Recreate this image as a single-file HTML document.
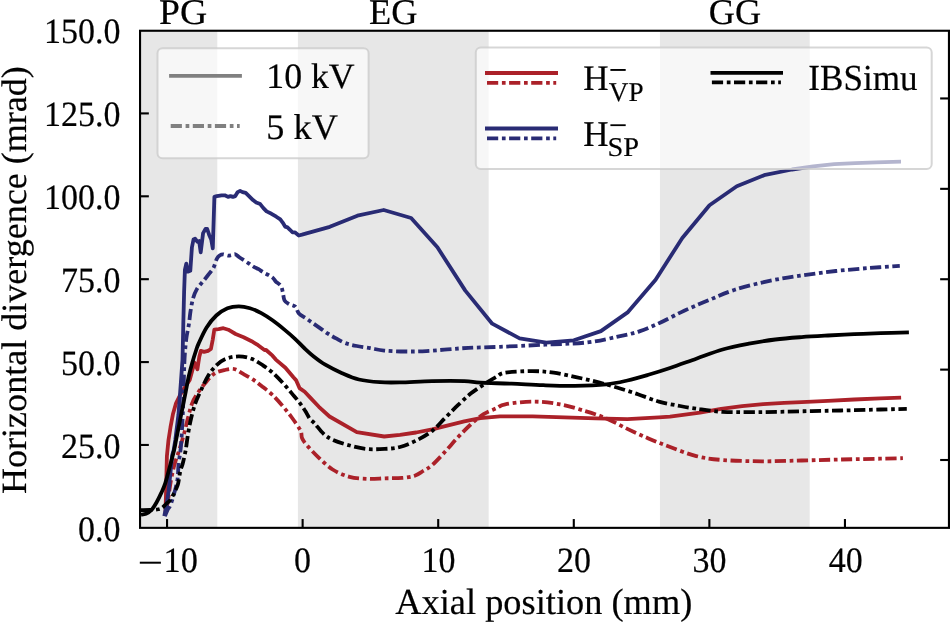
<!DOCTYPE html><html><head><meta charset="utf-8"><style>html,body{margin:0;padding:0;background:#fff;overflow:hidden}svg{display:block}text{font-family:"Liberation Serif",serif;text-rendering:geometricPrecision}</style></head><body>
<svg width="950" height="622" viewBox="0 0 950 622">
<rect width="950" height="622" fill="#fff"/>
<rect x="140.05" y="30.75" width="77.25" height="497.1" fill="#e7e7e7"/>
<rect x="297.9" y="30.75" width="190.75" height="497.1" fill="#e7e7e7"/>
<rect x="659.95" y="30.75" width="149.75" height="497.1" fill="#e7e7e7"/>
<g fill="none" stroke-width="3.8" stroke-linejoin="round" stroke-linecap="butt">
<path d="M165.5,512 L166.1,490 L166.5,472.2 L166.9,456.1 L168.5,440 L170.5,427.2 L172.9,414.3 L176.1,403.1 L180.1,395 L184.1,388.6 L189.7,380 L194.5,362.5 L197.4,369.2 L199.3,356.7 L200.8,350.9 L204.1,351.9 L208,350.9 L210.9,349 L212.8,339.3 L214.3,329.7 L218.6,329.2 L223.4,328.2 L228.3,329.7 L235.6,334 L243.6,337.2 L251.6,341.2 L258.1,345.2 L264.5,350 L266.1,350 L272.5,355.7 L275.8,359.6 L285.4,367.7 L293.4,377.3 L296,380.1 L299.5,388.1 L304.7,391.8 L310,397.4 L318.9,406.8 L329.5,416.5 L356.8,432.1 L384.2,436.5 L400,434.9 L416.1,432.5 L432.2,429.3 L448.2,425.3 L464.3,421.3 L480.4,418.1 L500,416.4 L532.6,416.3 L564.2,417.4 L595.8,418.4 L627.4,419.1 L658.9,417.4 L670,416.6 L700,412.6 L721.1,408.9 L742.1,406.1 L763.2,404.2 L784.2,402.9 L801.6,402.2 L827.9,400.8 L854.2,399.5 L880,398.4 L901.1,397.6" stroke="#ab2129"/>
<path d="M166,513 C166.33,510.83 167.17,505.5 168,500 C168.83,494.5 169.9,485.98 171,480 C172.1,474.02 173.22,469.1 174.6,464.1 C175.98,459.1 177.72,455.08 179.3,450 C180.88,444.92 182.63,439.02 184.1,433.6 C185.57,428.18 186.75,422.58 188.1,417.5 C189.45,412.42 190.45,407.38 192.2,403.1 C193.95,398.82 196.2,395.42 198.6,391.8 C201,388.18 203.92,384.48 206.6,381.4 C209.28,378.32 211.75,375.18 214.7,373.3 C217.65,371.42 221.08,370.82 224.3,370.1 C227.52,369.38 230.78,368.33 234,369 C237.22,369.67 240.4,372.32 243.6,374.1 C246.8,375.88 249.98,377.55 253.2,379.7 C256.42,381.85 259.68,384.45 262.9,387 C266.12,389.55 269.28,391.92 272.5,395 C275.72,398.08 278.98,401.75 282.2,405.5 C285.42,409.25 288.75,413.32 291.8,417.5 C294.85,421.68 298.8,427.18 300.5,430.6 C302.2,434.02 301.03,435.68 302,438 C302.97,440.32 303.65,441.37 306.3,444.5 C308.95,447.63 313.52,452.63 317.9,456.8 C322.28,460.97 327.33,466.17 332.6,469.5 C337.87,472.83 343.53,475.23 349.5,476.8 C355.47,478.37 362.43,478.65 368.4,478.9 C374.37,479.15 379.68,478.47 385.3,478.3 C390.92,478.13 397.2,478.32 402.1,477.9 C407,477.48 411.22,476.95 414.7,475.8 C418.18,474.65 420.08,472.8 423,471 C425.92,469.2 428.53,468.2 432.2,465 C435.87,461.8 440.72,456.42 445,451.8 C449.28,447.18 453.62,441.85 457.9,437.3 C462.18,432.75 466.42,428.35 470.7,424.5 C474.98,420.65 479.3,416.92 483.6,414.2 C487.9,411.48 492.88,409.85 496.5,408.2 C500.12,406.55 499.28,405.4 505.3,404.3 C511.32,403.2 523.48,401.6 532.6,401.6 C541.72,401.6 551.22,402.72 560,404.3 C568.78,405.88 577.58,408.75 585.3,411.1 C593.02,413.45 599.28,415.43 606.3,418.4 C613.32,421.37 620.38,425.57 627.4,428.9 C634.42,432.23 641.38,435.42 648.4,438.4 C655.42,441.38 661.52,443.85 669.5,446.8 C677.48,449.75 687.45,453.9 696.3,456.1 C705.15,458.3 711.63,459.13 722.6,460 C733.57,460.87 748.93,461.22 762.1,461.3 C775.27,461.38 788.43,460.8 801.6,460.5 C814.77,460.2 827.95,459.8 841.1,459.5 C854.25,459.2 870.2,458.92 880.5,458.7 C890.8,458.48 899.17,458.28 902.9,458.2" stroke="#ab2129" stroke-dasharray="11.2 3.7 3.7 3.5"/>
<path d="M164.3,516.2 L166.5,505 L168.5,492 L169.7,480 L171.2,465 L172.2,455 L173.7,450 L175.3,440 L178.5,414.3 L180.9,382.2 L182.5,360 L183.3,324.3 L184.1,292.2 L184.9,270 L186.3,263.6 L187.9,271.6 L190.3,270.8 L191.9,247.5 L193.5,239.5 L195.1,238.7 L197.5,241.9 L199.1,241.1 L200.7,252.3 L203.1,233.1 L205.5,229 L207.2,229 L209.1,234.7 L211.2,239.5 L212.8,248.3 L214.4,196.9 L216.8,196.1 L221.6,195.3 L224.8,195.3 L228,196.9 L230.5,196.1 L232.9,196.9 L235.3,196.1 L237.7,192.1 L240.1,190.9 L242.5,192.1 L245.7,192.9 L249,196.1 L253,200.1 L256.2,202.5 L260.2,204.1 L263.4,208.1 L266.6,211.4 L271.5,213.8 L276.3,216.7 L280.3,219.4 L282.7,222.6 L285.1,226.6 L287.5,227.4 L290,229.8 L292.4,232.3 L294.8,232.3 L298.8,235.5 L302,234.7 L329.8,226.8 L357.4,215.7 L383.7,210 L411.1,218 L437.4,247.3 L465.3,290.6 L492.2,323.7 L519.6,338.4 L546.3,342.6 L573.8,340.3 L600.9,331.1 L628,312.1 L655.6,279.7 L682.3,238 L709.5,205.2 L736.8,186.2 L765.3,174.8 L792.1,169.5 L813.2,166.3 L834.2,164.2 L855.3,163.2 L876.3,162.3 L901,161.7" stroke="#292b74"/>
<path d="M165,516 C165.5,514.83 167.13,510.72 168,509 C168.87,507.28 169.3,507.85 170.2,505.7 C171.1,503.55 172.2,500.38 173.4,496.1 C174.6,491.82 176.53,485.35 177.4,480 C178.27,474.65 178.02,469.58 178.6,464 C179.18,458.42 180.25,453.83 180.9,446.5 C181.55,439.17 182.08,428.08 182.5,420 C182.92,411.92 183.13,406.33 183.4,398 C183.67,389.67 183.85,377.47 184.1,370 C184.35,362.53 184.5,358.67 184.9,353.2 C185.3,347.73 185.83,342.02 186.5,337.2 C187.17,332.38 188.23,328.6 188.9,324.3 C189.57,320 189.82,315.68 190.5,311.4 C191.18,307.12 191.92,302.35 193,298.6 C194.08,294.85 195.27,291.85 197,288.9 C198.73,285.95 201.3,283.52 203.4,280.9 C205.5,278.28 207.9,275.42 209.6,273.2 C211.3,270.98 212.4,270 213.6,267.6 C214.8,265.2 215.73,260.87 216.8,258.8 C217.87,256.73 218.93,255.95 220,255.2 C221.07,254.45 221.85,254.23 223.2,254.3 C224.55,254.37 226.75,255.45 228.1,255.6 C229.45,255.75 230.1,255.42 231.3,255.2 C232.5,254.98 233.97,253.97 235.3,254.3 C236.63,254.63 237.83,256.18 239.3,257.2 C240.77,258.22 242.48,259.33 244.1,260.4 C245.72,261.47 247.38,262.53 249,263.6 C250.62,264.67 252.2,265.87 253.8,266.8 C255.4,267.73 257,268.27 258.6,269.2 C260.2,270.13 261.8,271.45 263.4,272.4 C265,273.35 266.58,273.95 268.2,274.9 C269.82,275.85 271.83,276.98 273.1,278.1 C274.37,279.22 274.5,280.3 275.8,281.6 C277.1,282.9 279.7,283.97 280.9,285.9 C282.1,287.83 282.4,290.78 283,293.2 C283.6,295.62 283.53,298.6 284.5,300.4 C285.47,302.2 287.38,303.15 288.8,304 C290.22,304.85 291.83,305 293,305.5 C294.17,306 294.82,305.68 295.8,307 C296.78,308.32 297.17,311.48 298.9,313.4 C300.63,315.32 303.78,316.82 306.2,318.5 C308.62,320.18 310.98,321.82 313.4,323.5 C315.82,325.18 318.28,326.9 320.7,328.6 C323.12,330.3 325.25,332.02 327.9,333.7 C330.55,335.38 333.7,337.13 336.6,338.7 C339.5,340.27 341.93,341.88 345.3,343.1 C348.67,344.32 352.68,345.17 356.8,346 C360.92,346.83 365.43,347.33 370,348.1 C374.57,348.87 378.32,350.03 384.2,350.6 C390.08,351.17 398.28,351.42 405.3,351.5 C412.32,351.58 419.28,351.45 426.3,351.1 C433.32,350.75 440.38,349.93 447.4,349.4 C454.42,348.87 459.63,348.33 468.4,347.9 C477.17,347.47 487.18,347.33 500,346.8 C512.82,346.27 530.73,345.43 545.3,344.7 C559.87,343.97 575.12,343.78 587.4,342.4 C599.68,341.02 610.23,338.28 619,336.4 C627.77,334.52 633.07,333.42 640,331.1 C646.93,328.78 653.23,325.9 660.6,322.5 C667.97,319.1 676.33,314.35 684.2,310.7 C692.07,307.05 699.38,304.08 707.8,300.6 C716.22,297.12 724.6,293.05 734.7,289.8 C744.8,286.55 757.17,283.5 768.4,281.1 C779.63,278.7 790.87,277.08 802.1,275.4 C813.33,273.72 824.58,272.23 835.8,271 C847.02,269.77 858.73,268.85 869.4,268 C880.07,267.15 894.73,266.25 899.8,265.9" stroke="#292b74" stroke-dasharray="11.2 3.7 3.7 3.5"/>
<path d="M141,514.6 C141.83,514.47 144.22,514.62 146,513.8 C147.78,512.98 149.95,511.58 151.7,509.7 C153.45,507.82 154.9,505.3 156.5,502.5 C158.1,499.7 159.83,496.12 161.3,492.9 C162.77,489.68 163.85,487.68 165.3,483.2 C166.75,478.72 168.53,471.53 170,466 C171.47,460.47 173.08,454.33 174.1,450 C175.12,445.67 175.23,444.33 176.1,440 C176.97,435.67 178.23,429.35 179.3,424 C180.37,418.65 181.43,413.27 182.5,407.9 C183.57,402.53 184.63,397.17 185.7,391.8 C186.77,386.43 187.82,380.52 188.9,375.7 C189.98,370.88 190.98,367.18 192.2,362.9 C193.42,358.62 195.13,353.22 196.2,350 C197.27,346.78 196.87,347.35 198.6,343.6 C200.33,339.85 203.65,332.18 206.6,327.5 C209.55,322.82 212.82,318.72 216.3,315.5 C219.78,312.28 223.75,309.73 227.5,308.2 C231.25,306.67 235.05,306.3 238.8,306.3 C242.55,306.3 246.25,307.07 250,308.2 C253.75,309.33 257.55,311.08 261.3,313.1 C265.05,315.12 268.75,317.63 272.5,320.3 C276.25,322.97 280.05,326.02 283.8,329.1 C287.55,332.18 291.52,335.57 295,338.8 C298.48,342.03 301.63,345.6 304.7,348.5 C307.77,351.4 309.97,353.5 313.4,356.2 C316.83,358.9 320.52,361.87 325.3,364.7 C330.08,367.53 336.5,370.73 342.1,373.2 C347.7,375.67 352.58,378 358.9,379.5 C365.22,381 373.15,381.72 380,382.2 C386.85,382.68 391.3,382.58 400,382.4 C408.7,382.22 421.48,381.32 432.2,381.1 C442.92,380.88 456.27,380.83 464.3,381.1 C472.33,381.37 472.52,382.27 480.4,382.7 C488.28,383.13 501.13,383.28 511.6,383.7 C522.07,384.12 532.68,384.85 543.2,385.2 C553.72,385.55 564.18,385.95 574.7,385.8 C585.22,385.65 597.52,385.18 606.3,384.3 C615.08,383.42 620.38,382.08 627.4,380.5 C634.42,378.92 641.3,376.88 648.4,374.8 C655.5,372.72 662.02,370.68 670,368 C677.98,365.32 687.53,361.78 696.3,358.7 C705.07,355.62 713.83,352 722.6,349.5 C731.37,347 740.12,345.37 748.9,343.7 C757.68,342.03 766.52,340.6 775.3,339.5 C784.08,338.4 792.83,337.77 801.6,337.1 C810.37,336.43 819.13,335.98 827.9,335.5 C836.67,335.02 845.43,334.58 854.2,334.2 C862.97,333.82 871.38,333.5 880.5,333.2 C889.62,332.9 904.17,332.53 908.9,332.4" stroke="#000"/>
<path d="M141,510.1 C142.5,510.08 147.33,510.1 150,510 C152.67,509.9 155,509.83 157,509.5 C159,509.17 160.5,508.92 162,508 C163.5,507.08 164.63,505.32 166,504 C167.37,502.68 169.1,501.42 170.2,500.1 C171.3,498.78 171.67,497.85 172.6,496.1 C173.53,494.35 174.87,491.75 175.8,489.6 C176.73,487.45 177.42,486.47 178.2,483.2 C178.98,479.93 179.77,473.18 180.5,470 C181.23,466.82 181.73,467.43 182.6,464.1 C183.47,460.77 184.78,455.08 185.7,450 C186.62,444.92 187.17,439.02 188.1,433.6 C189.03,428.18 190.08,422.58 191.3,417.5 C192.52,412.42 193.78,407.65 195.4,403.1 C197.02,398.55 198.87,394.77 201,390.2 C203.13,385.63 205.65,379.85 208.2,375.7 C210.75,371.55 213.35,368.12 216.3,365.3 C219.25,362.48 222.15,360.28 225.9,358.8 C229.65,357.32 234.52,356.4 238.8,356.4 C243.08,356.4 247.58,357.32 251.6,358.8 C255.62,360.28 259.42,363.02 262.9,365.3 C266.38,367.58 269.28,369.68 272.5,372.5 C275.72,375.32 278.98,378.72 282.2,382.2 C285.42,385.68 288.85,389.92 291.8,393.4 C294.75,396.88 297.48,399.88 299.9,403.1 C302.32,406.32 304.62,410.03 306.3,412.7 C307.98,415.37 308.6,417.3 310,419.1 C311.4,420.9 312.47,421.08 314.7,423.5 C316.93,425.92 320.52,430.93 323.4,433.6 C326.28,436.27 328.1,437.65 332,439.5 C335.9,441.35 341.17,443.13 346.8,444.7 C352.43,446.27 359.48,448.2 365.8,448.9 C372.12,449.6 379,449.22 384.7,448.9 C390.4,448.58 394.77,448.38 400,447 C405.23,445.62 410.73,443.28 416.1,440.6 C421.47,437.92 427.38,434.65 432.2,430.9 C437.02,427.15 440.72,422.38 445,418.1 C449.28,413.82 453.62,409.28 457.9,405.2 C462.18,401.12 466.42,397.03 470.7,393.6 C474.98,390.17 479.3,387.4 483.6,384.6 C487.9,381.8 492.88,378.78 496.5,376.8 C500.12,374.82 499.28,373.65 505.3,372.7 C511.32,371.75 524.53,371.1 532.6,371.1 C540.67,371.1 546.68,371.73 553.7,372.7 C560.72,373.67 567.68,375.42 574.7,376.9 C581.72,378.38 588.78,379.83 595.8,381.6 C602.82,383.37 609.78,385.4 616.8,387.5 C623.82,389.6 630.88,391.85 637.9,394.2 C644.92,396.55 651.88,399.63 658.9,401.6 C665.92,403.57 673.77,404.82 680,406 C686.23,407.18 689.2,407.73 696.3,408.7 C703.4,409.67 711.63,411.23 722.6,411.8 C733.57,412.37 748.93,412.18 762.1,412.1 C775.27,412.02 788.43,411.57 801.6,411.3 C814.77,411.03 827.95,410.8 841.1,410.5 C854.25,410.2 869.55,409.77 880.5,409.5 C891.45,409.23 902.42,409 906.8,408.9" stroke="#000" stroke-dasharray="11.2 3.7 3.7 3.5"/>
</g>
<rect x="157.5" y="48.2" width="211.1" height="110.1" rx="5" ry="5" fill="#fff" fill-opacity="0.65" stroke="#cccccc" stroke-opacity="0.8" stroke-width="2"/>
<rect x="475.8" y="47.5" width="455.9" height="121.6" rx="5" ry="5" fill="#fff" fill-opacity="0.65" stroke="#cccccc" stroke-opacity="0.8" stroke-width="2"/>
<g fill="none" stroke-width="3.8">
<path d="M169.1,75.8 H241.9" stroke="#808080"/>
<path d="M170.7,126 H239.7" stroke="#808080" stroke-dasharray="11.2 3.7 3.7 3.5"/>
<path d="M485,73 H558" stroke="#ab2129"/>
<path d="M487,82.9 H556.2" stroke="#ab2129" stroke-dasharray="11.2 3.7 3.7 3.5"/>
<path d="M485,128.5 H558" stroke="#292b74"/>
<path d="M487,138.4 H556.2" stroke="#292b74" stroke-dasharray="11.2 3.7 3.7 3.5"/>
<path d="M710.5,72.8 H783" stroke="#000"/>
<path d="M711.9,82.4 H780.9" stroke="#000" stroke-dasharray="11.2 3.7 3.7 3.5"/>
</g>
<g stroke="#000" stroke-width="2.1" fill="none">
<rect x="140.05" y="30.75" width="808.9" height="497.1"/>
<path d="M140.05,444.96 h8.8"/>
<path d="M140.05,362.08 h8.8"/>
<path d="M140.05,279.19 h8.8"/>
<path d="M140.05,196.3 h8.8"/>
<path d="M140.05,113.41 h8.8"/>
<path d="M948.95,98.45 h-8.8"/>
<path d="M948.95,188.84 h-8.8"/>
<path d="M948.95,279.23 h-8.8"/>
<path d="M948.95,369.62 h-8.8"/>
<path d="M948.95,460 h-8.8"/>
<path d="M167.05,527.85 v-8.8"/>
<path d="M302.63,527.85 v-8.8"/>
<path d="M438.21,527.85 v-8.8"/>
<path d="M573.79,527.85 v-8.8"/>
<path d="M709.37,527.85 v-8.8"/>
<path d="M844.95,527.85 v-8.8"/>
</g>
<g opacity="0.999" stroke="#000" stroke-width="0.6">
<text transform="matrix(0.33976,0,0,0.35515,77.904,540.517)" font-size="100" fill="#000">0.0</text>
<text transform="matrix(0.33976,0,0,0.35515,60.915,457.630)" font-size="100" fill="#000">25.0</text>
<text transform="matrix(0.33976,0,0,0.35515,60.915,374.742)" font-size="100" fill="#000">50.0</text>
<text transform="matrix(0.33976,0,0,0.35515,60.915,291.855)" font-size="100" fill="#000">75.0</text>
<text transform="matrix(0.33976,0,0,0.35515,43.927,208.967)" font-size="100" fill="#000">100.0</text>
<text transform="matrix(0.33976,0,0,0.35515,43.927,126.080)" font-size="100" fill="#000">125.0</text>
<text transform="matrix(0.33976,0,0,0.35515,43.927,43.192)" font-size="100" fill="#000">150.0</text>
<text transform="matrix(0.33976,0,0,0.35515,293.936,571.617)" font-size="100" fill="#000">0</text>
<text transform="matrix(0.33976,0,0,0.35515,421.472,571.617)" font-size="100" fill="#000">10</text>
<text transform="matrix(0.33976,0,0,0.35515,557.074,571.617)" font-size="100" fill="#000">20</text>
<text transform="matrix(0.33976,0,0,0.35515,692.612,571.617)" font-size="100" fill="#000">30</text>
<text transform="matrix(0.33976,0,0,0.35515,828.659,571.617)" font-size="100" fill="#000">40</text>
<rect x="139.8" y="561.7" width="21.1" height="2" fill="#000" stroke="none"/>
<text transform="matrix(0.34286,0,0,0.35515,163.500,571.617)" font-size="100" fill="#000">10</text>
<text transform="matrix(0.37700,0,0,0.36183,158.969,24.300)" font-size="100" fill="#000">PG</text>
<text transform="matrix(0.36306,0,0,0.36183,369.011,24.300)" font-size="100" fill="#000">EG</text>
<text transform="matrix(0.36211,0,0,0.36183,708.852,24.300)" font-size="100" fill="#000">GG</text>
<text transform="matrix(0.35701,0,0,0.35634,266.276,88.465)" font-size="100" fill="#000">10 kV</text>
<text transform="matrix(0.36268,0,0,0.36056,266.315,138.759)" font-size="100" fill="#000">5 kV</text>
<text transform="matrix(0.35098,0,0,0.36729,808.372,90.233)" font-size="100" fill="#000">IBSimu</text>
<text transform="matrix(0.35019,0,0,0.35725,583.149,89.800)" font-size="100" fill="#000">H</text>
<text transform="matrix(0.35019,0,0,0.36183,583.149,145.800)" font-size="100" fill="#000">H</text>
<rect x="610.4" y="69.0" width="15.3" height="1.9" fill="#000" stroke="none"/>
<rect x="610.4" y="124.3" width="15.3" height="1.8" fill="#000" stroke="none"/>
<text transform="matrix(0.27210,0,0,0.27023,608.728,100.700)" font-size="100" fill="#000">VP</text>
<text transform="matrix(0.28458,0,0,0.27063,607.379,156.129)" font-size="100" fill="#000">SP</text>
<text transform="matrix(0.36376,0,0,0.36667,395.236,613.500)" font-size="100" fill="#000">Axial position (mm)</text>
<text transform="matrix(0,-0.36057,0.35573,0,26.0,493.982)" font-size="100" fill="#000">Horizontal divergence (mrad)</text>
</g>
</svg></body></html>
